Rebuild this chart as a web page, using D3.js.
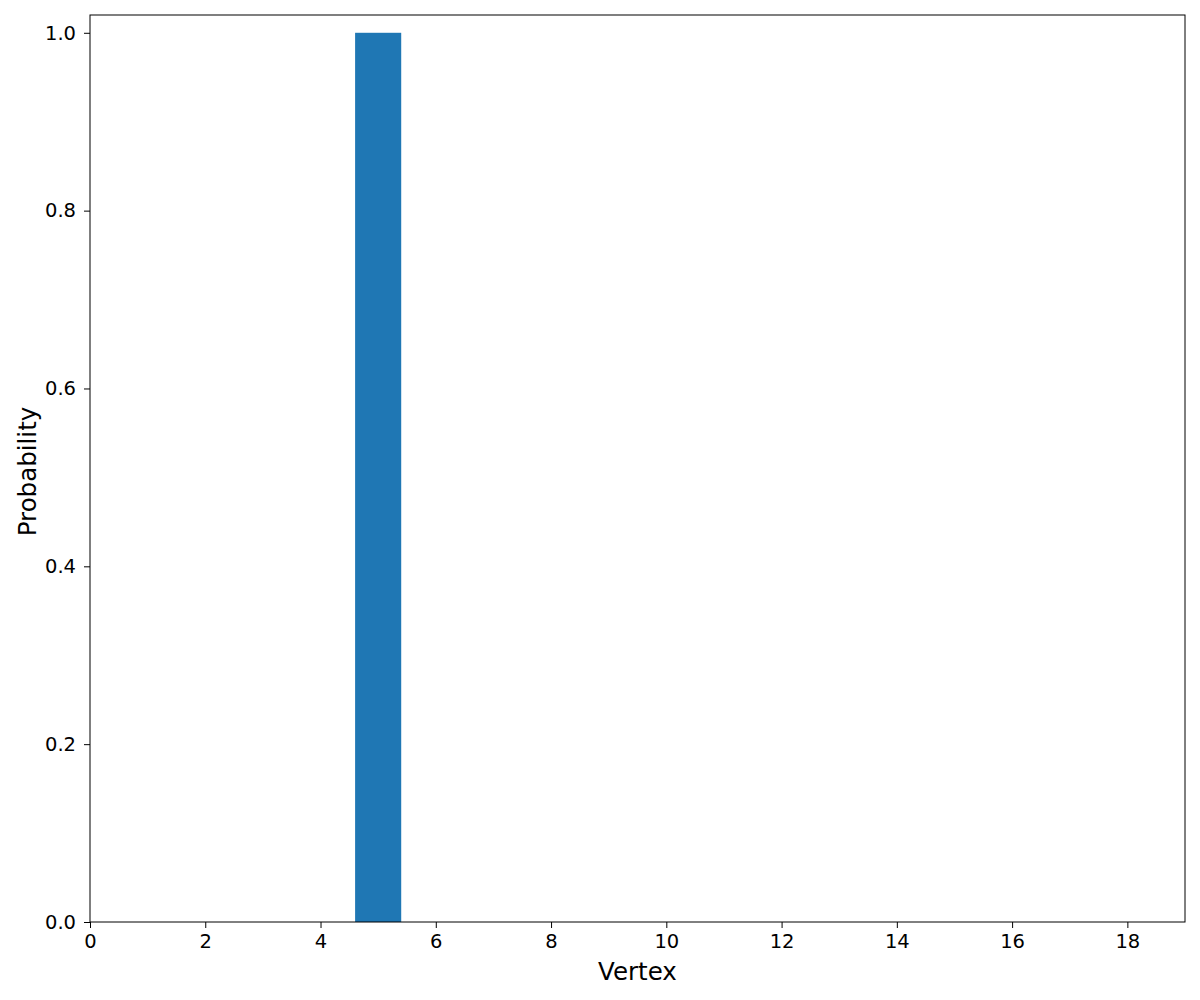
<!DOCTYPE html>
<html>
<head>
<meta charset="utf-8">
<script src="https://cdn.jsdelivr.net/npm/d3@7"></script>
<style>
  body { margin: 0; background: #fff; }
  text { font-family: "DejaVu Sans", sans-serif; }
</style>
</head>
<body>
<svg id="chart" width="1200" height="1000"></svg>
<script>
// vertex ids and the probability of each one
const vertices = d3.range(0, 19);
const probs = [0, 0, 0, 0, 0, 1, 0, 0, 0, 0, 0, 0, 0, 0, 0, 0, 0, 0, 0];
const xTicks = [0, 2, 4, 6, 8, 10, 12, 14, 16, 18];
const yTicks = [0, 0.2, 0.4, 0.6, 0.8, 1.0];

const margin = { top: 15, right: 15, bottom: 78, left: 90 };
const width = 1200 - margin.left - margin.right;
const height = 1000 - margin.top - margin.bottom;

const svg = d3.select("#chart");
const g = svg.append("g").attr("transform", `translate(${margin.left},${margin.top})`);

const x = d3.scaleLinear().domain([0, 19]).range([0, width]);
const y = d3.scaleLinear().domain([0, 1.02]).range([height, 0]);

const data = vertices.map((v, i) => ({ vertex: v, p: probs[i] }));

g.selectAll("rect.bar")
  .data(data.filter(d => d.p > 0))
  .enter().append("rect")
  .attr("class", "bar")
  .attr("x", d => x(d.vertex - 0.4))
  .attr("width", d => x(d.vertex + 0.4) - x(d.vertex - 0.4))
  .attr("y", d => y(d.p))
  .attr("height", d => y(0) - y(d.p))
  .attr("fill", "#1f77b4");

const xAxis = g.append("g")
  .attr("transform", `translate(0,${height})`)
  .call(d3.axisBottom(x).tickValues(xTicks).tickFormat(d3.format("d")).tickSize(6).tickPadding(6));
const yAxis = g.append("g")
  .call(d3.axisLeft(y).tickValues(yTicks).tickFormat(d3.format(".1f")).tickSize(6).tickPadding(8));

[xAxis, yAxis].forEach(a => {
  a.attr("font-size", null).attr("font-family", null);
  a.selectAll("text").style("font-size", "19.5px").attr("fill", "#000").style("font-family", "DejaVu Sans");
  a.selectAll("line").attr("stroke", "#000").attr("stroke-width", 1);
  a.select(".domain").remove();
});

// frame
g.append("rect")
  .attr("width", width).attr("height", height)
  .attr("fill", "none").attr("stroke", "#000").attr("stroke-width", 1);

g.append("text")
  .attr("x", width / 2).attr("y", height + 58)
  .attr("text-anchor", "middle")
  .style("font-size", "24.5px")
  .text("Vertex");

g.append("text")
  .attr("transform", `translate(${-54},${height / 2 + 3}) rotate(-90)`)
  .attr("text-anchor", "middle")
  .style("font-size", "24.5px")
  .text("Probability");
</script>
</body>
</html>
